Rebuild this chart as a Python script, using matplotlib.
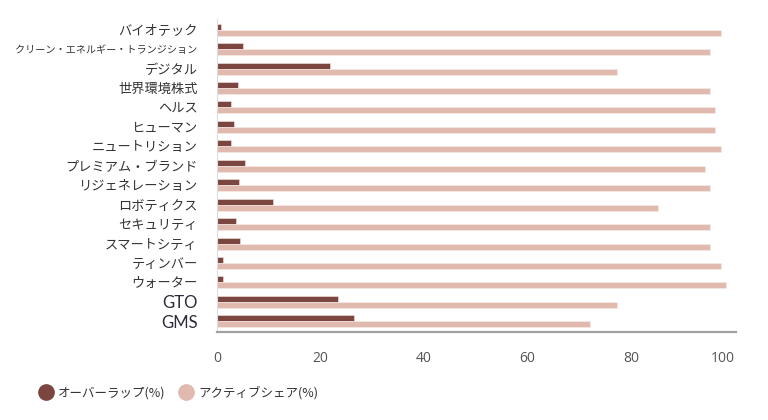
import matplotlib
matplotlib.use("Agg")
import matplotlib.pyplot as plt
from matplotlib.lines import Line2D
import numpy as np

plt.rcParams["font.family"] = ["Noto Sans CJK JP", "DejaVu Sans"]

categories = [
    "バイオテック", "クリーン・エネルギー・トランジション", "デジタル", "世界環境株式",
    "ヘルス", "ヒューマン", "ニュートリション", "プレミアム・ブランド",
    "リジェネレーション", "ロボティクス", "セキュリティ", "スマートシティ",
    "ティンバー", "ウォーター", "GTO", "GMS",
]
overlap = [0.7, 5.1, 21.9, 4.0, 2.7, 3.2, 2.7, 5.5, 4.3, 10.9, 3.6, 4.4, 1.2, 1.2, 23.4, 26.5]
active_share = [97.4, 95.3, 77.3, 95.3, 96.3, 96.3, 97.4, 94.4, 95.3, 85.3, 95.3, 95.3,
                97.4, 98.3, 77.3, 72.1]
x_ticks = [0, 20, 40, 60, 80, 100]

dark = "#7B4540"
light = "#E0B9AF"

fig = plt.figure(figsize=(7.68, 4.2), dpi=100)
ax = fig.add_axes([217 / 768, 1 - 332 / 420, (736 - 217) / 768, (332 - 19) / 420])

y = np.arange(len(categories))
h = 0.31
ax.barh(y - h / 2, overlap, height=h, color=dark, edgecolor="#F4E6E3", linewidth=0.4)
ax.barh(y + h / 2, active_share, height=h, color=light, edgecolor="#F7ECE9", linewidth=0.4)

ax.set_xlim(0, 100.3)
ax.set_ylim(len(categories) - 0.45, -0.55)

ax.set_yticks(y)
ax.set_yticklabels(categories)
for lab in ax.get_yticklabels():
    txt = lab.get_text()
    if txt in ("GTO", "GMS"):
        lab.set_fontfamily("Lato")
        lab.set_fontsize(12)
        lab.set_color("#2B2B3A")
    elif len(txt) > 12:
        # long name is set condensed in the original
        lab.set_fontsize(7.3)
        lab.set_color("#333333")
    else:
        lab.set_fontsize(9.5)
        lab.set_color("#333333")
ax.tick_params(axis="y", length=0, pad=14)

ax.set_xticks(x_ticks)
ax.set_xticklabels([str(t) for t in x_ticks], fontfamily="Open Sans", fontsize=10, color="#555555")
ax.tick_params(axis="x", length=0, pad=14)
ax.get_xticklabels()[-1].set_horizontalalignment("right")

for side in ("top", "right"):
    ax.spines[side].set_visible(False)
ax.spines["left"].set_color("#DDDDDD")
ax.spines["left"].set_linewidth(0.8)
ax.spines["bottom"].set_color("#A0A0A0")
ax.spines["bottom"].set_linewidth(1.6)

handles = [
    Line2D([], [], marker="o", linestyle="", markersize=11, color=dark, label="オーバーラップ(%)"),
    Line2D([], [], marker="o", linestyle="", markersize=11, color=light, label="アクティブシェア(%)"),
]
fig.legend(handles=handles, loc="center left", bbox_to_anchor=(22 / 768, 1 - 393 / 420),
           ncol=2, frameon=False, handletextpad=0.0, columnspacing=0.6, fontsize=9,
           labelcolor="#333333")

fig.savefig("out.png", dpi=100)
